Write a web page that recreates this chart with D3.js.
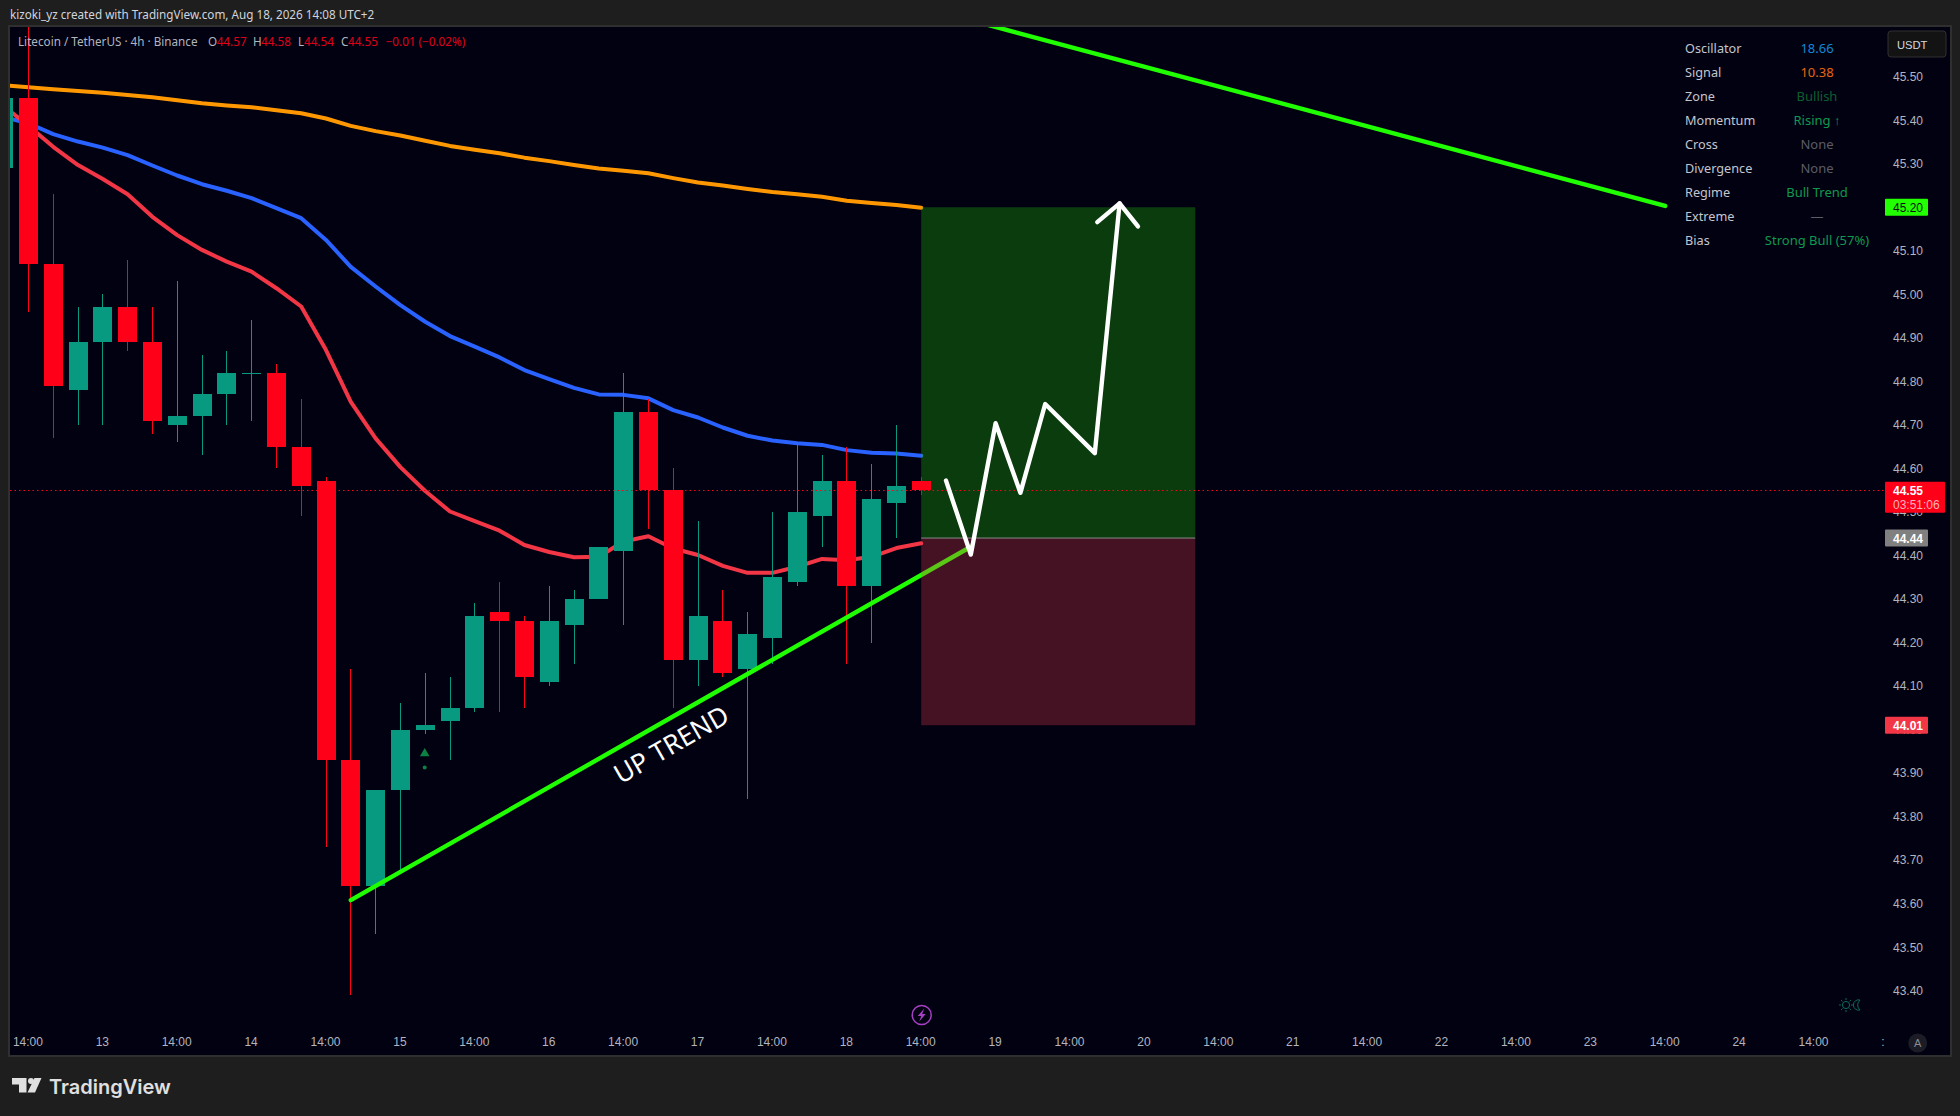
<!DOCTYPE html>
<html>
<head>
<meta charset="utf-8">
<title>Litecoin / TetherUS</title>
<script src="https://cdn.jsdelivr.net/npm/d3@7"></script>
<style>
html, body { margin: 0; padding: 0; background: #1e1e1e; overflow: hidden; }
svg { display: block; }
text { font-family: "Liberation Sans", Arial, sans-serif; }
</style>
</head>
<body>
<div id="chart"></div>
<script>
var svgWidth = 1960;
var svgHeight = 1116;
var panelLeft = 10;
var panelTop = 27;
var panelRight = 1950;
var panelBottom = 1055;
var bodyWidth = 19;

// candles, the first one is the bar cut off by the left edge (bar index -1)
var firstBar = -1;
var opens = [45.29, 45.45, 45.07, 44.78, 44.89, 44.97, 44.89, 44.70, 44.72, 44.77, 44.82, 44.82, 44.65, 44.57, 43.93, 43.64, 43.86, 44.00, 44.02, 44.05, 44.27, 44.25, 44.11, 44.24, 44.30, 44.41, 44.73, 44.55, 44.16, 44.25, 44.14, 44.21, 44.34, 44.49, 44.57, 44.33, 44.52, 44.57];
var highs = [45.50, 45.62, 45.23, 44.97, 45.00, 45.08, 44.97, 45.03, 44.86, 44.87, 44.94, 44.84, 44.76, 44.58, 44.14, 43.86, 44.06, 44.13, 44.12, 44.29, 44.34, 44.26, 44.33, 44.32, 44.42, 44.82, 44.76, 44.60, 44.48, 44.32, 44.27, 44.50, 44.66, 44.63, 44.65, 44.61, 44.70, 44.58];
var lows = [45.20, 44.96, 44.67, 44.70, 44.70, 44.87, 44.68, 44.66, 44.63, 44.70, 44.71, 44.60, 44.49, 43.73, 43.39, 43.53, 43.67, 43.99, 43.93, 44.04, 44.04, 44.05, 44.10, 44.15, 44.30, 44.24, 44.46, 44.05, 44.10, 44.12, 43.84, 44.15, 44.33, 44.42, 44.15, 44.20, 44.44, 44.54];
var closes = [45.45, 45.07, 44.79, 44.89, 44.97, 44.89, 44.71, 44.72, 44.77, 44.82, 44.82, 44.65, 44.56, 43.93, 43.64, 43.86, 44.00, 44.01, 44.05, 44.26, 44.25, 44.12, 44.25, 44.30, 44.42, 44.73, 44.55, 44.16, 44.26, 44.13, 44.22, 44.35, 44.50, 44.57, 44.33, 44.53, 44.56, 44.55];

// moving averages, same bars as the candles
var emaOrange = [45.480, 45.476, 45.471, 45.467, 45.463, 45.458, 45.453, 45.446, 45.439, 45.434, 45.430, 45.423, 45.416, 45.404, 45.387, 45.375, 45.365, 45.353, 45.341, 45.332, 45.324, 45.314, 45.306, 45.297, 45.289, 45.284, 45.278, 45.267, 45.257, 45.250, 45.242, 45.235, 45.230, 45.224, 45.215, 45.210, 45.205, 45.199];
var emaBlue = [45.407, 45.393, 45.368, 45.351, 45.337, 45.320, 45.296, 45.273, 45.253, 45.238, 45.221, 45.198, 45.175, 45.125, 45.063, 45.018, 44.975, 44.937, 44.904, 44.880, 44.855, 44.826, 44.805, 44.785, 44.770, 44.769, 44.761, 44.734, 44.717, 44.694, 44.675, 44.664, 44.658, 44.654, 44.642, 44.636, 44.634, 44.629];
var emaRed = [45.433, 45.387, 45.339, 45.297, 45.265, 45.230, 45.178, 45.136, 45.102, 45.075, 45.052, 45.014, 44.972, 44.872, 44.753, 44.669, 44.603, 44.548, 44.501, 44.479, 44.457, 44.424, 44.408, 44.396, 44.397, 44.432, 44.444, 44.416, 44.401, 44.376, 44.360, 44.360, 44.374, 44.392, 44.389, 44.397, 44.417, 44.428];

// drawings on the chart, as [bar, price]
var upTrendLine = [[13, 43.608], [38, 44.42]];
var downTrendLine = [[36, 45.66], [66, 45.203]];
var forecastPath = [[37, 44.572], [38, 44.402], [39, 44.704], [40, 44.544], [41, 44.748], [43, 44.635], [44, 45.209]];
var forecastArrow = [[43.1, 45.166], [44, 45.209], [44.74, 45.156]];
var signalBar = 15.98;
var signalPrices = [43.945, 43.913];

// position tool
var boxBars = [36, 47.05];
var targetPrice = 45.20;
var entryPrice = 44.44;
var stopPrice = 44.01;

// axes
var priceTicks = d3.range(0, 22).map(function (i) { return 43.4 + i * 0.1; });
var dayLabels = ["13", "14", "15", "16", "17", "18", "19", "20", "21", "22", "23", "24"];
var timeTickBars = d3.range(0, 73, 3);

// table in the top right corner
var tableLabels = ["Oscillator", "Signal", "Zone", "Momentum", "Cross", "Divergence", "Regime", "Extreme", "Bias"];
var tableValues = ["18.66", "10.38", "Bullish", "Rising ↑", "None", "None", "Bull Trend", "—", "Strong Bull (57%)"];
var tableColors = ["#1088d4", "#e8650f", "#0e5f30", "#0f9950", "#5a5d66", "#5a5d66", "#0f9950", "#5a5d66", "#0f9950"];

var teal = "#089981";
var red = "#ff0019";
var lime = "#20ff00";
var labelFont = "'Noto Sans', sans-serif";

var x = d3.scaleLinear().domain([0, 72]).range([28.4, 1814]);
var y = d3.scaleLinear().domain([43.4, 45.5]).range([990.7, 76.7]);

var svg = d3.select("#chart").append("svg")
	.attr("width", svgWidth)
	.attr("height", svgHeight);

svg.append("rect")
	.attr("width", svgWidth)
	.attr("height", svgHeight)
	.attr("fill", "#1e1e1e");

svg.append("rect")
	.attr("x", panelLeft - 1)
	.attr("y", panelTop - 1)
	.attr("width", panelRight - panelLeft + 2)
	.attr("height", panelBottom - panelTop + 2)
	.attr("fill", "#020112")
	.attr("stroke", "#2f2f2f")
	.attr("stroke-width", 2);

svg.append("clipPath").attr("id", "panelClip")
	.append("rect")
	.attr("x", panelLeft)
	.attr("y", panelTop)
	.attr("width", panelRight - panelLeft)
	.attr("height", panelBottom - panelTop);

var plot = svg.append("g").attr("clip-path", "url(#panelClip)");

function candleData()
{
	return opens.map(function (o, i) {
		return {bar: firstBar + i, open: o, high: highs[i], low: lows[i], close: closes[i]};
	});
}

function drawCandles(parent, data)
{
	var g = parent.append("g").attr("shape-rendering", "crispEdges");
	var color = function (d) { return d.close >= d.open ? teal : red; };
	var left = function (d) { return Math.round(x(d.bar) - bodyWidth / 2); };
	g.selectAll("rect.wick")
		.data(data)
		.enter()
		.append("rect")
		.attr("class", "wick")
		.attr("x", function (d) { return left(d) + 9; })
		.attr("y", function (d) { return y(d.high); })
		.attr("width", 1)
		.attr("height", function (d) { return y(d.low) - y(d.high); })
		.attr("fill", color);
	g.selectAll("rect.body")
		.data(data)
		.enter()
		.append("rect")
		.attr("class", "body")
		.attr("x", left)
		.attr("y", function (d) { return y(Math.max(d.open, d.close)); })
		.attr("width", bodyWidth)
		.attr("height", function (d) { return Math.max(1, Math.abs(y(d.open) - y(d.close))); })
		.attr("fill", color);
}

function drawEma(values, color)
{
	var line = d3.line()
		.x(function (d, i) { return x(firstBar + i); })
		.y(function (d) { return y(d); });
	plot.append("path")
		.attr("d", line(values))
		.attr("fill", "none")
		.attr("stroke", color)
		.attr("stroke-width", 4)
		.attr("stroke-linecap", "round")
		.attr("stroke-linejoin", "round");
}

function drawDrawing(points, color, width)
{
	var line = d3.line()
		.x(function (d) { return x(d[0]); })
		.y(function (d) { return y(d[1]); });
	plot.append("path")
		.attr("d", line(points))
		.attr("fill", "none")
		.attr("stroke", color)
		.attr("stroke-width", width)
		.attr("stroke-linecap", "round")
		.attr("stroke-linejoin", "round");
}

var candles = candleData();

drawEma(emaOrange, "#ff9800");
drawEma(emaBlue, "#2962ff");
drawEma(emaRed, "#f23645");

drawCandles(plot, candles.slice(0, -1));

drawDrawing(upTrendLine, lime, 4.4);
drawDrawing(downTrendLine, lime, 4.4);

// position box
var boxX = x(boxBars[0]);
var boxW = x(boxBars[1]) - x(boxBars[0]);
plot.append("rect")
	.attr("x", boxX).attr("y", y(targetPrice))
	.attr("width", boxW).attr("height", y(entryPrice) - y(targetPrice))
	.attr("fill", "#1ed006").attr("fill-opacity", 0.29);
plot.append("rect")
	.attr("x", boxX).attr("y", y(entryPrice))
	.attr("width", boxW).attr("height", y(stopPrice) - y(entryPrice))
	.attr("fill", "#e93f50").attr("fill-opacity", 0.29);
plot.append("line")
	.attr("x1", boxX).attr("x2", boxX + boxW)
	.attr("y1", y(entryPrice)).attr("y2", y(entryPrice))
	.attr("stroke", "#8a8a8a").attr("stroke-width", 1);

drawCandles(plot, candles.slice(-1));

// last price line
plot.append("line")
	.attr("x1", panelLeft).attr("x2", 1885)
	.attr("y1", Math.round(y(closes[closes.length - 1])) + 0.5)
	.attr("y2", Math.round(y(closes[closes.length - 1])) + 0.5)
	.attr("stroke", red)
	.attr("stroke-width", 1)
	.attr("stroke-dasharray", "1.5 3");

drawDrawing(forecastPath, "#ffffff", 4.4);
drawDrawing(forecastArrow, "#ffffff", 4.4);

// signal marks under the small candle
plot.append("path")
	.attr("d", d3.symbol().type(d3.symbolTriangle).size(40))
	.attr("transform", "translate(" + x(signalBar) + "," + y(signalPrices[0]) + ")")
	.attr("fill", "#0d8043");
plot.append("circle")
	.attr("cx", x(signalBar)).attr("cy", y(signalPrices[1]))
	.attr("r", 2)
	.attr("fill", "#0d8043");

plot.append("text")
	.attr("transform", "translate(671,744) rotate(-30)")
	.attr("text-anchor", "middle")
	.attr("dominant-baseline", "central")
	.style("font-family", labelFont)
	.style("font-size", "26.5px")
	.attr("fill", "#ffffff")
	.text("UP TREND");

// price axis
var priceAxis = d3.axisRight(y)
	.tickValues(priceTicks)
	.tickFormat(d3.format(".2f"))
	.tickSize(0)
	.tickPadding(0);
var priceG = svg.append("g")
	.attr("transform", "translate(1893,0)")
	.call(priceAxis);
priceG.select(".domain").remove();
priceG.selectAll("text")
	.attr("fill", "#b2b5be")
	.style("font-family", "'Liberation Sans', sans-serif")
	.style("font-size", "12px");

// time axis, every other tick is a day number
var timeAxis = d3.axisBottom(x)
	.tickValues(timeTickBars)
	.tickFormat(function (d, i) { return i % 2 == 0 ? "14:00" : dayLabels[(i - 1) / 2]; })
	.tickSize(0)
	.tickPadding(0);
var timeG = svg.append("g")
	.attr("transform", "translate(-1,1037)")
	.call(timeAxis);
timeG.select(".domain").remove();
timeG.selectAll("text")
	.attr("fill", "#b2b5be")
	.style("font-family", "'Liberation Sans', sans-serif")
	.style("font-size", "12px");

svg.append("text")
	.attr("x", 1883).attr("y", 1046)
	.attr("text-anchor", "middle")
	.attr("fill", "#b2b5be")
	.style("font-size", "12px")
	.text(":");

// price tags on the axis
function drawTag(price, color, textColor, w, h)
{
	var cy = y(price);
	svg.append("rect")
		.attr("x", 1885).attr("y", cy - 8.5)
		.attr("width", w).attr("height", h)
		.attr("rx", 1)
		.attr("fill", color);
	svg.append("text")
		.attr("x", 1893).attr("y", cy + 5)
		.attr("fill", textColor)
		.style("font-size", "12px")
		.style("font-weight", textColor == "#ffffff" ? "bold" : "normal")
		.text(d3.format(".2f")(price));
}
drawTag(targetPrice, "#22ff00", "#101010", 43, 17);
drawTag(entryPrice, "#808080", "#ffffff", 43, 17);
drawTag(stopPrice, "#f23645", "#ffffff", 43, 17);
drawTag(closes[closes.length - 1], red, "#ffffff", 60, 31);
svg.append("text")
	.attr("x", 1893).attr("y", 508.8)
	.attr("fill", "#ffb0b8")
	.style("font-size", "12px")
	.text("03:51:06");

// currency button
svg.append("rect")
	.attr("x", 1888).attr("y", 31)
	.attr("width", 58).attr("height", 26)
	.attr("rx", 3)
	.attr("fill", "#131313")
	.attr("stroke", "#303030");
svg.append("text")
	.attr("x", 1897).attr("y", 49)
	.attr("fill", "#d6d8de")
	.style("font-size", "11.2px")
	.text("USDT");

// header and legend
svg.append("text")
	.attr("x", 10).attr("y", 19)
	.attr("fill", "#d1d4dc")
	.style("font-family", labelFont)
	.style("font-size", "11.7px")
	.text("kizoki_yz created with TradingView.com, Aug 18, 2026 14:08 UTC+2");

var lastBar = closes.length - 1;
var legendGray = "#b2b5be";
var legendRed = "#e0001a";
var f2 = d3.format(".2f");
var legendParts = [
	["Litecoin / TetherUS · 4h · Binance", 18, legendGray],
	["O", 208, legendGray], [f2(opens[lastBar]), 216.7, legendRed],
	["H", 253, legendGray], [f2(highs[lastBar]), 261, legendRed],
	["L", 298, legendGray], [f2(lows[lastBar]), 304, legendRed],
	["C", 341, legendGray], [f2(closes[lastBar]), 348, legendRed],
	["−0.01 (−0.02%)", 385.7, legendRed]
];
svg.selectAll("text.legend")
	.data(legendParts)
	.enter()
	.append("text")
	.attr("class", "legend")
	.attr("x", function (d) { return d[1]; })
	.attr("y", 46)
	.attr("fill", function (d) { return d[2]; })
	.style("font-family", labelFont)
	.style("font-size", "11.7px")
	.text(function (d) { return d[0]; });

// table
var rowY = d3.scaleLinear().domain([0, 8]).range([48.3, 240.3]);
svg.selectAll("text.rowLabel")
	.data(tableLabels)
	.enter()
	.append("text")
	.attr("class", "rowLabel")
	.attr("x", 1685)
	.attr("y", function (d, i) { return rowY(i) + 4.5; })
	.attr("fill", "#c4c6cd")
	.style("font-family", labelFont)
	.style("font-size", "12.7px")
	.text(function (d) { return d; });
svg.selectAll("text.rowValue")
	.data(tableValues)
	.enter()
	.append("text")
	.attr("class", "rowValue")
	.attr("x", 1817)
	.attr("y", function (d, i) { return rowY(i) + 4.5; })
	.attr("text-anchor", "middle")
	.attr("fill", function (d, i) { return tableColors[i]; })
	.style("font-family", labelFont)
	.style("font-size", "13px")
	.text(function (d) { return d; });

// lightning button
var bolt = svg.append("g").attr("transform", "translate(921.7,1015)");
bolt.append("circle").attr("r", 9.5).attr("fill", "none").attr("stroke", "#a63fc4").attr("stroke-width", 1.5);
bolt.append("path").attr("d", "M2.5,-6.5 L-4,1 L-0.5,1 L-2.5,6.5 L4,-1 L0.5,-1 Z").attr("fill", "#a63fc4");

// session icon
var session = svg.append("g").attr("transform", "translate(1846,1005)");
session.append("circle").attr("r", 3.6).attr("fill", "none").attr("stroke", "#0a6b5a").attr("stroke-width", 1);
d3.range(8).forEach(function (i) {
	var a = i * Math.PI / 4;
	session.append("line")
		.attr("x1", 5 * Math.cos(a)).attr("y1", 5 * Math.sin(a))
		.attr("x2", 7 * Math.cos(a)).attr("y2", 7 * Math.sin(a))
		.attr("stroke", "#0a6b5a").attr("stroke-width", 1);
});
session.append("path")
	.attr("d", "M14,-5 A5.2,5.2 0 1 0 14,5 A6.5,6.5 0 0 1 14,-5 Z")
	.attr("fill", "none").attr("stroke", "#0a6b5a").attr("stroke-width", 1);

// auto scale button
svg.append("circle").attr("cx", 1917.7).attr("cy", 1043).attr("r", 9.5).attr("fill", "#1c1c26");
svg.append("text")
	.attr("x", 1917.7).attr("y", 1047)
	.attr("text-anchor", "middle")
	.attr("fill", "#8a8a90")
	.style("font-size", "11px")
	.text("A");

// logo
var logo = svg.append("g").attr("fill", "#e0e0e0");
logo.append("path").attr("d", "M12,1078 H26.5 V1092.5 H19 V1084.5 H12 Z");
logo.append("circle").attr("cx", 31).attr("cy", 1081).attr("r", 3);
logo.append("path").attr("d", "M34.5,1078 H41.5 L35,1092.5 H27.5 Z");
logo.append("text")
	.attr("x", 49).attr("y", 1093.5)
	.style("font-family", "Inter, sans-serif")
	.style("font-size", "20px")
	.style("font-weight", 600)
	.text("TradingView");
</script>
</body>
</html>
